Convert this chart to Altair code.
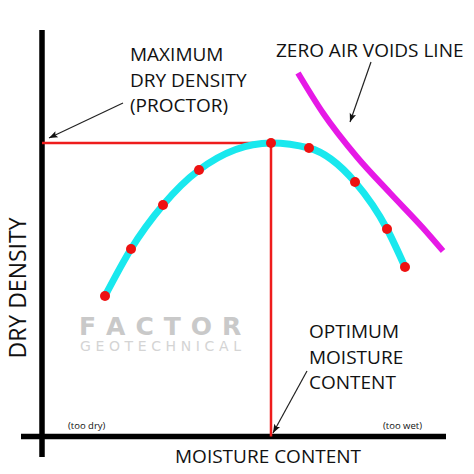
import math
import altair as alt
import pandas as pd

H = 474  # vertical value = H - pixel row

# Compaction curve test points (moisture, dry density)
dot_x = [105, 131, 163, 199, 271, 309, 355, 387, 405]
dot_y = [H - v for v in [296, 249, 205, 170, 143, 148, 182, 229, 267]]

# Zero air voids line
zav_x = [298, 323, 357, 390, 423, 443]
zav_y = [H - v for v in [73, 113, 157, 193, 228, 251]]

# Optimum point
opt_x = 271
opt_y = H - 143
axis_x0 = 42
axis_y0 = H - 436.5

# Axes lines
axes_x = [axis_x0, 21]
axes_x2 = [axis_x0, 446]
axes_y = [H - 30, axis_y0]
axes_y2 = [H - 457, axis_y0]

# Red guides
guide_x = [axis_x0, opt_x]
guide_x2 = [opt_x, opt_x]
guide_y = [opt_y, opt_y]
guide_y2 = [opt_y, axis_y0]

# Arrows: start -> tip
arr_x = [123, 371, 307]
arr_y = [H - 103, H - 62, H - 371]
arr_tx = [49, 350, 273]
arr_ty = [H - 138, H - 122, H - 433]

# Labels
lab_text = ["MAXIMUM", "DRY DENSITY", "(PROCTOR)", "ZERO AIR VOIDS LINE",
            "OPTIMUM", "MOISTURE", "CONTENT"]
lab_x = [130, 130, 130, 276, 309, 309, 309]
lab_y = [H - 61, H - 86.5, H - 112, H - 57, H - 338, H - 363.5, H - 389]

sc_x = alt.Scale(domain=[0, 474], nice=False, zero=False)
sc_y = alt.Scale(domain=[0, 474], nice=False, zero=False)

def X(f):
    return alt.X(f, type="quantitative", scale=sc_x, axis=None)

def Y(f):
    return alt.Y(f, type="quantitative", scale=sc_y, axis=None)

axes_df = pd.DataFrame({"x": axes_x, "x2": axes_x2, "y": axes_y, "y2": axes_y2})
axes = alt.Chart(axes_df).mark_rule(color="black", strokeWidth=5.5, strokeCap="butt").encode(
    x=X("x"), x2="x2", y=Y("y"), y2="y2")

guide_df = pd.DataFrame({"x": guide_x, "x2": guide_x2, "y": guide_y, "y2": guide_y2})
guides = alt.Chart(guide_df).mark_rule(color="#ee1c1c", strokeWidth=2.5).encode(
    x=X("x"), x2="x2", y=Y("y"), y2="y2")

zav_df = pd.DataFrame({"x": zav_x, "y": zav_y})
zav = alt.Chart(zav_df).mark_line(color="#e619e6", strokeWidth=6, interpolate="monotone",
                                  strokeCap="butt").encode(x=X("x"), y=Y("y"))

dots_df = pd.DataFrame({"x": dot_x, "y": dot_y})
curve = alt.Chart(dots_df).mark_line(color="#19e8ee", strokeWidth=7, interpolate="monotone").encode(
    x=X("x"), y=Y("y"))
dots = alt.Chart(dots_df).mark_point(filled=True, color="#ee1111", opacity=1, size=100).encode(
    x=X("x"), y=Y("y"))

angles = []
for sx, sy, tx, ty in zip(arr_x, arr_y, arr_tx, arr_ty):
    dx = tx - sx
    dy = -(ty - sy)
    angles.append(math.degrees(math.atan2(dx, -dy)) % 360)
arr_df = pd.DataFrame({"x": arr_x, "y": arr_y, "tx": arr_tx, "ty": arr_ty, "ang": angles})
shafts = alt.Chart(arr_df).mark_rule(color="#222222", strokeWidth=1.2).encode(
    x=X("x"), y=Y("y"), x2="tx", y2="ty")
heads = alt.Chart(arr_df).mark_point(
    filled=True, color="#111111", opacity=1, size=300,
    shape="M0,0 L-0.38,1 L0,0.8 L0.38,1 Z").encode(
    x=X("tx"), y=Y("ty"), angle=alt.Angle("ang:Q", scale=None))

lab_df = pd.DataFrame({"t": lab_text, "x": lab_x, "y": lab_y})
labels = alt.Chart(lab_df).mark_text(align="left", baseline="alphabetic", font="Open Sans",
                                     fontSize=19, color="#111111").encode(
    x=X("x"), y=Y("y"), text="t")

def single(text, x, y, font="Open Sans", **kw):
    d = pd.DataFrame({"t": [text], "x": [x], "y": [y]})
    return alt.Chart(d).mark_text(font=font, baseline="alphabetic", **kw).encode(
        x=X("x"), y=Y("y"), text="t")

xlab = single("MOISTURE CONTENT", 268, H - 463, align="center", fontSize=19, color="#111111")
ylab = single("DRY DENSITY", 26, H - 288, align="center", fontSize=23, angle=270, color="#111111")
dry = single("(too dry)", 68, H - 429, align="left", fontSize=9.5, color="#111111")
wet = single("(too wet)", 383, H - 429, align="left", fontSize=9.5, color="#111111")
wm1 = single("\u2009\u2009".join("FACTOR"), 79, H - 335, font="DejaVu Sans", align="left",
             fontSize=25, fontWeight="bold", color="#c9c9c9")
wm2 = single("\u2004".join("GEOTECHNICAL"), 80, H - 351, font="DejaVu Sans", align="left",
             fontSize=14, color="#d4d4d4")

chart = alt.layer(wm1, wm2, axes, guides, zav, curve, dots, shafts, heads, labels,
                  xlab, ylab, dry, wet).properties(
    width=474, height=474, padding=0, autosize=alt.AutoSizeParams(type="none"),
    background="white").configure_view(stroke=None)

chart.save("out.html", embed_options={"renderer": "svg", "actions": False})
